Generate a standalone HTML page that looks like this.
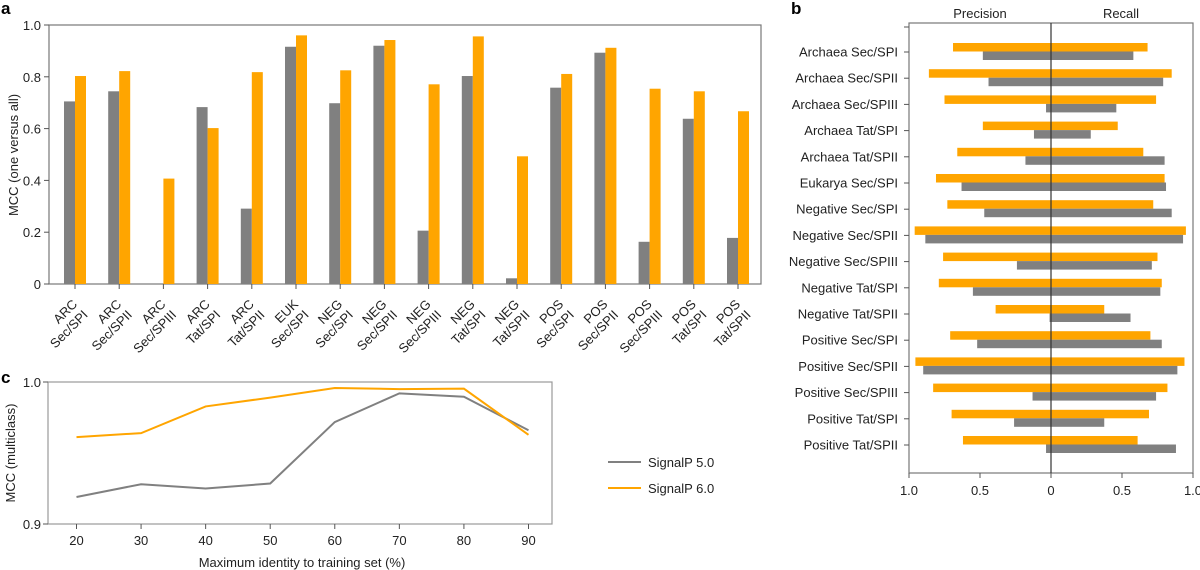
<!DOCTYPE html>
<html><head><meta charset="utf-8"><style>
body{margin:0;background:#fff}
svg{display:block;font-family:"Liberation Sans",Arial,sans-serif}
</style></head><body>
<svg id="s" width="1200" height="570" xmlns="http://www.w3.org/2000/svg">
<text x="1" y="14" font-size="17" font-weight="bold">a</text>
<text x="791" y="14" font-size="17" font-weight="bold">b</text>
<text x="1" y="383" font-size="17" font-weight="bold">c</text>
<g id="ga"></g>
<g id="gb"></g>
<g id="gc"></g>
</svg>
<script>
const NS="http://www.w3.org/2000/svg";
const GREY="#808080", ORANGE="#FFA500";
// Panel a data
const aCatTop=["ARC","ARC","ARC","ARC","ARC","EUK","NEG","NEG","NEG","NEG","NEG","POS","POS","POS","POS","POS"];
const aCatBot=["Sec/SPI","Sec/SPII","Sec/SPIII","Tat/SPI","Tat/SPII","Sec/SPI","Sec/SPI","Sec/SPII","Sec/SPIII","Tat/SPI","Tat/SPII","Sec/SPI","Sec/SPII","Sec/SPIII","Tat/SPI","Tat/SPII"];
const aSignalP5=[0.705,0.744,0,0.683,0.291,0.916,0.698,0.92,0.206,0.803,0.022,0.758,0.893,0.163,0.638,0.178];
const aSignalP6=[0.803,0.822,0.407,0.602,0.818,0.96,0.825,0.942,0.771,0.956,0.493,0.811,0.912,0.754,0.744,0.667];
const aTicks=[0,0.2,0.4,0.6,0.8,1.0];
const aTickLabels=["0","0.2","0.4","0.6","0.8","1.0"];
// Panel b data
const bCats=["Archaea Sec/SPI","Archaea Sec/SPII","Archaea Sec/SPIII","Archaea Tat/SPI","Archaea Tat/SPII","Eukarya Sec/SPI","Negative Sec/SPI","Negative Sec/SPII","Negative Sec/SPIII","Negative Tat/SPI","Negative Tat/SPII","Positive Sec/SPI","Positive Sec/SPII","Positive Sec/SPIII","Positive Tat/SPI","Positive Tat/SPII"];
const bPrec6=[0.69,0.86,0.75,0.48,0.66,0.81,0.73,0.96,0.76,0.79,0.39,0.71,0.955,0.83,0.70,0.62];
const bRec6=[0.68,0.85,0.74,0.47,0.65,0.80,0.72,0.95,0.75,0.78,0.375,0.70,0.94,0.82,0.69,0.61];
const bPrec5=[0.48,0.44,0.035,0.12,0.18,0.63,0.47,0.885,0.24,0.55,0.01,0.52,0.90,0.13,0.26,0.035];
const bRec5=[0.58,0.79,0.46,0.28,0.80,0.81,0.85,0.93,0.71,0.77,0.56,0.78,0.89,0.74,0.375,0.88];
const bTicks=[-1,-0.5,0,0.5,1];
const bTickLabels=["1.0","0.5","0","0.5","1.0"];
// Panel c data
const cX=[20,30,40,50,60,70,80,90];
const cSignalP5=[0.919,0.928,0.925,0.9285,0.9718,0.992,0.9896,0.966];
const cSignalP6=[0.9612,0.964,0.9828,0.989,0.9958,0.995,0.9953,0.9628];
const cYTicks=[0.9,1.0];
const cYTickLabels=["0.9","1.0"];

function mk(p,tag,attrs,txt){const e=document.createElementNS(NS,tag);for(const k in attrs)e.setAttribute(k,attrs[k]);if(txt!==undefined)e.textContent=txt;p.appendChild(e);return e;}

// ---- Panel a
const ga=document.getElementById('ga');
const aL=49,aR=761,aT=25,aB=284;
const ay=v=>aB-(aB-aT)*v;
const ax=i=>75+i*44.2;
let e;
e=mk(ga,'rect',{x:aL,y:aT,width:aR-aL,height:aB-aT,fill:'none',stroke:'#777','stroke-width':1.2});

aTicks.forEach((t,i)=>{
  mk(ga,'line',{x1:aL-5,x2:aL,y1:ay(t),y2:ay(t),stroke:'#555'});
  e=mk(ga,'text',{x:aL-8,y:ay(t)+5,'font-size':13,'text-anchor':'end',fill:'#222'},aTickLabels[i]);
  
});
e=mk(ga,'text',{transform:'translate(18,155) rotate(-90)','font-size':13,'text-anchor':'middle',fill:'#222'},'MCC (one versus all)');

aCatTop.forEach((c,i)=>{
  const x=ax(i);
  e=mk(ga,'rect',{x:x-11,y:ay(aSignalP5[i]),width:11,height:aB-ay(aSignalP5[i]),fill:GREY});
  
  e=mk(ga,'rect',{x:x,y:ay(aSignalP6[i]),width:11,height:aB-ay(aSignalP6[i]),fill:ORANGE});
  
  mk(ga,'line',{x1:x,x2:x,y1:aB,y2:aB+5,stroke:'#555'});
  const t=mk(ga,'text',{transform:`translate(${x+3},305) rotate(-45)`,'font-size':13,'text-anchor':'end',fill:'#222'});
  
  
  mk(t,'tspan',{x:0,y:0},c);
  mk(t,'tspan',{x:0,y:15},aCatBot[i]);
});

// ---- Panel b
const gb=document.getElementById('gb');
const bL=909,bR=1193,bC=1051,bT=23,bB=473;
const bx=v=>bC+(bR-bC)*v;
const by=i=>52+i*26.2;
e=mk(gb,'rect',{x:bL,y:bT,width:bR-bL,height:bB-bT,fill:'none',stroke:'#777','stroke-width':1.2});

e=mk(gb,'text',{x:980,y:18,'font-size':13,'text-anchor':'middle',fill:'#222'},'Precision');

e=mk(gb,'text',{x:1121,y:18,'font-size':13,'text-anchor':'middle',fill:'#222'},'Recall');

mk(gb,'line',{x1:904,x2:909,y1:27,y2:27,stroke:'#555'});
bCats.forEach((c,i)=>{
  const y=by(i);
  e=mk(gb,'rect',{x:bx(-bPrec6[i]),y:y-9,width:bC-bx(-bPrec6[i]),height:8.5,fill:ORANGE});
  
  e=mk(gb,'rect',{x:bC,y:y-9,width:bx(bRec6[i])-bC,height:8.5,fill:ORANGE});
  
  e=mk(gb,'rect',{x:bx(-bPrec5[i]),y:y-0.5,width:bC-bx(-bPrec5[i]),height:8.5,fill:GREY});
  
  e=mk(gb,'rect',{x:bC,y:y-0.5,width:bx(bRec5[i])-bC,height:8.5,fill:GREY});
  
  mk(gb,'line',{x1:904,x2:909,y1:y,y2:y,stroke:'#555'});
  e=mk(gb,'text',{x:898,y:y+4.5,'font-size':13,'text-anchor':'end',fill:'#222'},c);
  
});
mk(gb,'line',{x1:bC,x2:bC,y1:bT,y2:bB,stroke:'#333','stroke-width':1.2});
bTicks.forEach((t,i)=>{
  mk(gb,'line',{x1:bx(t),x2:bx(t),y1:bB,y2:bB+5,stroke:'#555'});
  e=mk(gb,'text',{x:bx(t),y:495,'font-size':13,'text-anchor':'middle',fill:'#222'},bTickLabels[i]);
  
});

// ---- Panel c
const gc=document.getElementById('gc');
const cL=48,cR=552,cT=382,cB=524;
const cxs=v=>76.5+(v-20)*6.457;
const cys=v=>cB-(cB-cT)*(v-0.9)/0.1;
e=mk(gc,'rect',{x:cL,y:cT,width:cR-cL,height:cB-cT,fill:'none',stroke:'#999','stroke-width':1.2});

cYTicks.forEach((t,i)=>{
  mk(gc,'line',{x1:cL-5,x2:cL,y1:cys(t),y2:cys(t),stroke:'#555'});
  e=mk(gc,'text',{x:cL-7,y:cys(t)+5,'font-size':13,'text-anchor':'end',fill:'#222'},cYTickLabels[i]);
  
});
cX.forEach(v=>{
  mk(gc,'line',{x1:cxs(v),x2:cxs(v),y1:cB,y2:cB+5,stroke:'#555'});
  e=mk(gc,'text',{x:cxs(v),y:545,'font-size':13,'text-anchor':'middle',fill:'#222'},String(v));
  
});
e=mk(gc,'text',{x:302,y:567,'font-size':13,'text-anchor':'middle',fill:'#222'},'Maximum identity to training set (%)');

e=mk(gc,'text',{transform:'translate(15,453) rotate(-90)','font-size':13,'text-anchor':'middle',fill:'#222'},'MCC (multiclass)');

const pts=a=>a.map((v,i)=>cxs(cX[i])+','+cys(v)).join(' ');
e=mk(gc,'polyline',{points:pts(cSignalP5),fill:'none',stroke:GREY,'stroke-width':2});

e=mk(gc,'polyline',{points:pts(cSignalP6),fill:'none',stroke:ORANGE,'stroke-width':2});

mk(gc,'line',{x1:608,x2:641,y1:462,y2:462,stroke:GREY,'stroke-width':2});
e=mk(gc,'text',{x:648,y:467,'font-size':13,fill:'#222'},'SignalP 5.0');

mk(gc,'line',{x1:608,x2:641,y1:488,y2:488,stroke:ORANGE,'stroke-width':2});
e=mk(gc,'text',{x:648,y:493,'font-size':13,fill:'#222'},'SignalP 6.0');

</script>
</body></html>
